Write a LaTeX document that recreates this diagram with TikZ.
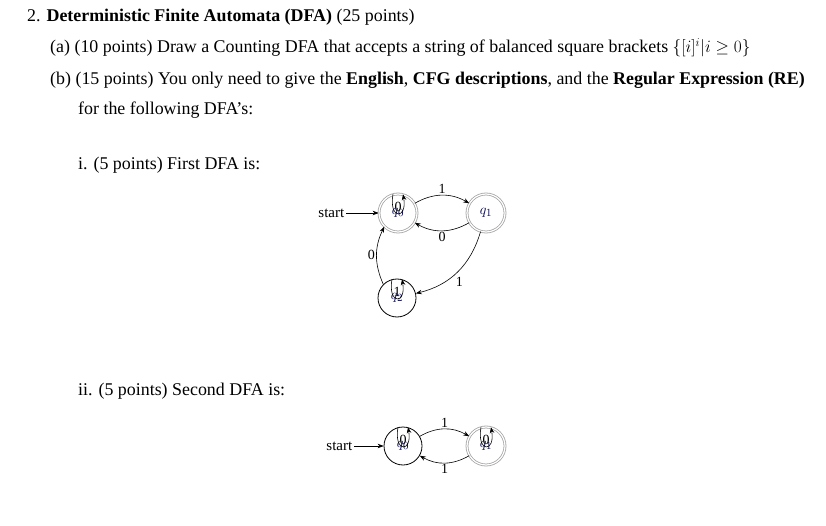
\documentclass[tikz,border=0pt]{standalone}
\usepackage{fontspec}
\setmainfont{Liberation Serif}
\usetikzlibrary{arrows.meta,automata}
\begin{document}
\begin{tikzpicture}[x=1pt,y=-1pt,
  txt/.style={anchor=west,inner sep=0pt,font=\fontsize{17.9}{21}\selectfont},
  st/.style={circle,draw,thick,minimum size=38pt,inner sep=0pt,font=\fontsize{15}{17}\selectfont,text=blue!30!black},
  acc/.style={st,double=white,draw=gray!70,double distance=1.2pt},
  lbl/.style={font=\fontsize{14}{16}\selectfont,inner sep=1.5pt},
  tr/.style={->,>={Stealth[length=6pt]},semithick}]
\useasboundingbox (0,0) rectangle (826,526);
\node[txt] (t1) at (27,17) {2. \textbf{Deterministic Finite Automata (DFA)} (25 points)};
\node[txt] (ta) at (50,48) {(a) (10 points) Draw a Counting DFA that accepts a string of balanced square brackets $\bigl\{[i]^i|i\geq 0\bigr\}$};
\node[txt] (tb) at (50,80) {(b) (15 points) You only need to give the \textbf{English}, \textbf{CFG descriptions}, and the \textbf{Regular Expression (RE)}};
\node[txt] (tb2) at (78,110) {for the following DFA's:};
\node[txt] (ti) at (78,165) {i. (5 points) First DFA is:};
\node[txt] (tii) at (78,391) {ii. (5 points) Second DFA is:};
% DFA 1
\node[acc] (a0) at (398,213) {$q_0$};
\node[acc] (a1) at (486,213) {$q_1$};
\node[st] (a2) at (397,298) {$q_2$};
\node[lbl,anchor=east,font=\fontsize{15}{17}\selectfont] (s1) at (346,213) {start};
\draw[tr] (s1) -- (a0);
\draw[tr] (a0.105) .. controls +(100:26) and +(80:26) .. node[lbl,above] {0} (a0.75);
\draw[tr] (a0) to[bend left=30] node[lbl,above] {1} (a1);
\draw[tr] (a1) to[bend left=30] node[lbl,below] {0} (a0);
\draw[tr] (a1) to[bend left=30] node[lbl,pos=0.55,below right] {1} (a2);
\draw[tr] (a2.north west) to[bend left=25] node[lbl,left] {0} (a0.south west);
\draw[tr] (a2.105) .. controls +(100:26) and +(80:26) .. node[lbl,above] {1} (a2.75);
% DFA 2
\node[st] (b0) at (403,446) {$q_0$};
\node[acc] (b1) at (486,446) {$q_1$};
\node[lbl,anchor=east,font=\fontsize{15}{17}\selectfont] (s2) at (354,446) {start};
\draw[tr] (s2) -- (b0);
\draw[tr] (b0.105) .. controls +(100:26) and +(80:26) .. node[lbl,above] {0} (b0.75);
\draw[tr] (b1.105) .. controls +(100:26) and +(80:26) .. node[lbl,above] {0} (b1.75);
\draw[tr] (b0) to[bend left=30] node[lbl,above] {1} (b1);
\draw[tr] (b1) to[bend left=30] node[lbl,below] {1} (b0);
\end{tikzpicture}
\end{document}
